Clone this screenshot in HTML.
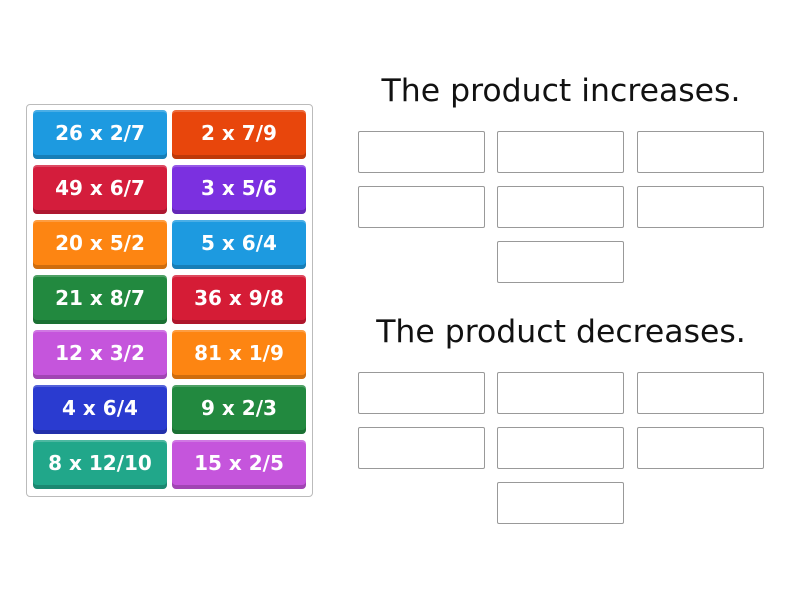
<!DOCTYPE html><html><head><style>
body{margin:0;width:800px;height:600px;background:#fff;font-family:"DejaVu Sans","Liberation Sans",sans-serif;position:relative;overflow:hidden}
.c{position:absolute;left:26px;top:104px;width:285px;height:391px;border:1px solid #bbb;border-radius:4px}
.t{position:absolute;width:134px;height:49px;border-radius:4px;color:#fff;font-size:20px;font-weight:bold;text-align:center;line-height:46px;box-shadow:inset 0 -4px 0 rgba(0,0,0,.18),inset 0 2px 0 rgba(255,255,255,.2)}
.b{position:absolute;width:125px;height:40px;border:1px solid #999;border-radius:2px}
.h{position:absolute;left:340px;width:442px;text-align:center;font-size:31.5px;color:#111}
</style></head><body>
<div class="c"></div>
<div class="t" style="left:33px;top:110px;background:#1d9ae0">26 x 2/7</div>
<div class="t" style="left:172px;top:110px;background:#e8460c">2 x 7/9</div>
<div class="t" style="left:33px;top:165px;background:#d41d3c">49 x 6/7</div>
<div class="t" style="left:172px;top:165px;background:#7b30e0">3 x 5/6</div>
<div class="t" style="left:33px;top:220px;background:#fd8512">20 x 5/2</div>
<div class="t" style="left:172px;top:220px;background:#1d9ae0">5 x 6/4</div>
<div class="t" style="left:33px;top:275px;background:#22893f">21 x 8/7</div>
<div class="t" style="left:172px;top:275px;background:#d51c36">36 x 9/8</div>
<div class="t" style="left:33px;top:330px;background:#c555dc">12 x 3/2</div>
<div class="t" style="left:172px;top:330px;background:#fd8512">81 x 1/9</div>
<div class="t" style="left:33px;top:385px;background:#2a3bd0">4 x 6/4</div>
<div class="t" style="left:172px;top:385px;background:#22893f">9 x 2/3</div>
<div class="t" style="left:33px;top:440px;background:#21a78a">8 x 12/10</div>
<div class="t" style="left:172px;top:440px;background:#c555dc">15 x 2/5</div>
<div class="h" style="top:73px">The product increases.</div>
<div class="b" style="left:358px;top:131px"></div><div class="b" style="left:497px;top:131px"></div><div class="b" style="left:637px;top:131px"></div>
<div class="b" style="left:358px;top:186px"></div><div class="b" style="left:497px;top:186px"></div><div class="b" style="left:637px;top:186px"></div>
<div class="b" style="left:497px;top:241px"></div>
<div class="h" style="top:314px">The product decreases.</div>
<div class="b" style="left:358px;top:372px"></div><div class="b" style="left:497px;top:372px"></div><div class="b" style="left:637px;top:372px"></div>
<div class="b" style="left:358px;top:427px"></div><div class="b" style="left:497px;top:427px"></div><div class="b" style="left:637px;top:427px"></div>
<div class="b" style="left:497px;top:482px"></div>
</body></html>
